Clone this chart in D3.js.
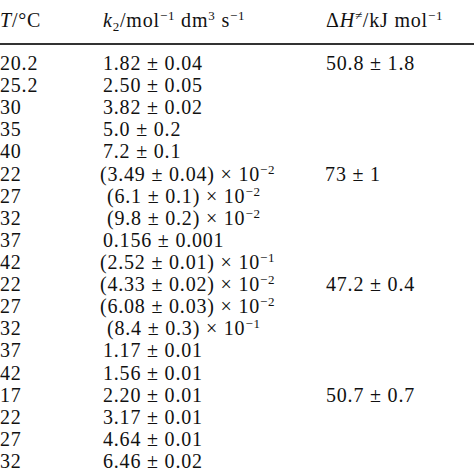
<!DOCTYPE html>
<html><head><meta charset="utf-8">
<script src="https://cdn.jsdelivr.net/npm/d3@7"></script>
<style>body{margin:0;background:#fff}text{font-family:"Liberation Serif","DejaVu Serif",serif;fill:#111;letter-spacing:0.8px}</style>
</head><body><div id="chart"></div>
<script>
var temps = ["20.2","25.2","30","35","40","22","27","32","37","42","22","27","32","37","42","17","22","27","32"];
var k2Values = ["1.82 ± 0.04","2.50 ± 0.05","3.82 ± 0.02","5.0 ± 0.2","7.2 ± 0.1",
  "(3.49 ± 0.04)","(6.1 ± 0.1)","(9.8 ± 0.2)","0.156 ± 0.001","(2.52 ± 0.01)",
  "(4.33 ± 0.02)","(6.08 ± 0.03)","(8.4 ± 0.3)","1.17 ± 0.01","1.56 ± 0.01",
  "2.20 ± 0.01","3.17 ± 0.01","4.64 ± 0.01","6.46 ± 0.02"];
var k2Exponents = [null,null,null,null,null,"−2","−2","−2",null,"−1","−2","−2","−1",null,null,null,null,null,null];
var dHValues = ["50.8 ± 1.8","73 ± 1","47.2 ± 0.4","50.7 ± 0.7"];
var dHRows = [0,5,10,15];

var width = 474, height = 474;
var svg = d3.select("#chart").append("svg").attr("width", width).attr("height", height);
var fs = 20;

var y = d3.scaleLinear().domain([0, temps.length - 1]).range([70, 468]);

// header
var head = svg.append("g").attr("font-size", fs);
var h1 = head.append("text").attr("x", 0).attr("y", 27);
h1.append("tspan").attr("font-style", "italic").text("T");
h1.append("tspan").text("/°C");
var h2 = head.append("text").attr("x", 103).attr("y", 27);
h2.append("tspan").attr("font-style", "italic").text("k");
h2.append("tspan").attr("font-size", 13).attr("dy", 4).text("2");
h2.append("tspan").attr("dy", -4).text("/mol");
h2.append("tspan").attr("font-size", 13).attr("dy", -7).text("−1");
h2.append("tspan").attr("dy", 7).text(" dm");
h2.append("tspan").attr("font-size", 13).attr("dy", -7).text("3");
h2.append("tspan").attr("dy", 7).text(" s");
h2.append("tspan").attr("font-size", 13).attr("dy", -7).text("−1");
var h3 = head.append("text").attr("x", 326).attr("y", 27);
h3.append("tspan").text("Δ");
h3.append("tspan").attr("font-style", "italic").text("H");
h3.append("tspan").attr("font-size", 13).attr("dy", -7).text("≠");
h3.append("tspan").attr("dy", 7).text("/kJ mol");
h3.append("tspan").attr("font-size", 13).attr("dy", -7).text("−1");

svg.append("line").attr("x1", 0).attr("x2", width).attr("y1", 44).attr("y2", 44)
  .attr("stroke", "#333").attr("stroke-width", 2);

var body = svg.append("g").attr("font-size", fs);
body.selectAll(".t").data(temps).join("text").attr("class", "t")
  .attr("x", 0).attr("y", (d, i) => y(i)).text(d => d);

var k = body.selectAll(".k").data(k2Values).join("text").attr("class", "k")
  .attr("x", d => d[0] !== "(" ? 103 : (d.length > 12 ? 100 : 107))
  .attr("y", (d, i) => y(i));
k.append("tspan").text(d => d);
k.each(function(d, i) {
  if (!k2Exponents[i]) return;
  var t = d3.select(this);
  t.append("tspan").text(" × 10");
  t.append("tspan").attr("font-size", 13).attr("dy", -7).text(k2Exponents[i]);
});

body.selectAll(".h").data(dHValues).join("text").attr("class", "h")
  .attr("x", (d, i) => i === 1 ? 353 : 326)
  .attr("text-anchor", (d, i) => i === 1 ? "middle" : "start")
  .attr("y", (d, i) => y(dHRows[i])).text(d => d);
</script></body></html>
